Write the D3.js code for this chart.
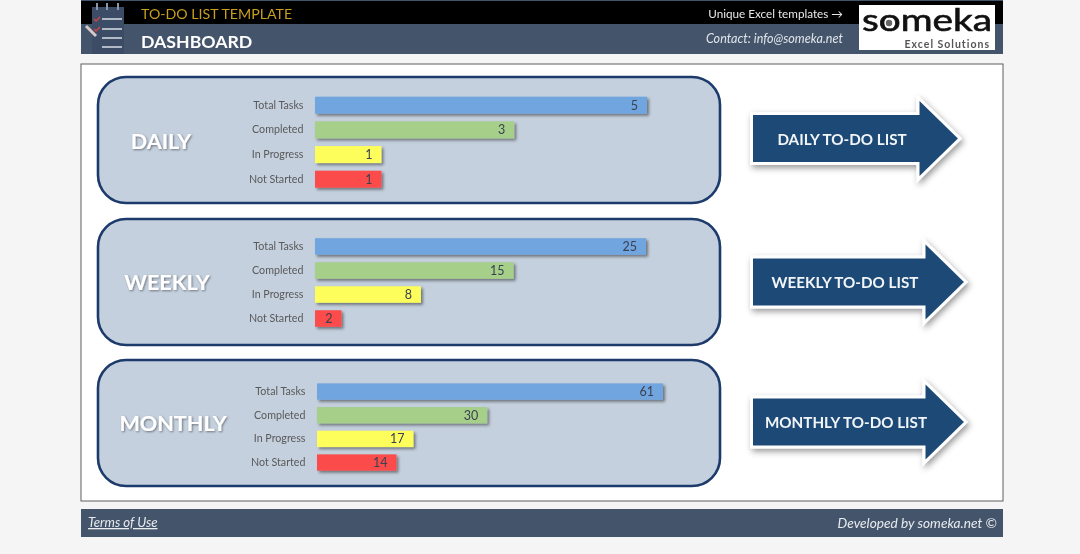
<!DOCTYPE html>
<html>
<head>
<meta charset="utf-8">
<script src="https://cdnjs.cloudflare.com/ajax/libs/d3/7.8.5/d3.min.js"></script>
<style>
  html, body { margin: 0; padding: 0; background: #f5f5f5; overflow: hidden; }
  svg { display: block; filter: blur(0.55px); }
  text { font-family: Lato, "Open Sans", sans-serif; }
  .domain { display: none; }
</style>
</head>
<body>
<div id="main"></div>
<script>
var metrics = ["Total Tasks", "Completed", "In Progress", "Not Started"];
var periods = ["DAILY", "WEEKLY", "MONTHLY"];
var dailyValues = [5, 3, 1, 1];
var weeklyValues = [25, 15, 8, 2];
var monthlyValues = [61, 30, 17, 14];
var barColors = ["#6fa5df", "#a6cf8a", "#fdfd5c", "#fb4c4c"];

var width = 1080, height = 554;

var svg = d3.select("#main").append("svg")
  .attr("width", width)
  .attr("height", height);

// shadows
var defs = svg.append("defs");
function shadow(id, dx, dy, blur, op) {
  defs.append("filter").attr("id", id)
    .attr("x", "-20%").attr("y", "-40%").attr("width", "140%").attr("height", "180%")
    .append("feDropShadow")
    .attr("dx", dx).attr("dy", dy).attr("stdDeviation", blur)
    .attr("flood-color", "#000").attr("flood-opacity", op);
}
shadow("barShadow", 2, 2, 1.4, 0.45);
shadow("arrowShadow", 2, 3, 3, 0.4);
shadow("titleShadow", 1, 1, 1.1, 0.45);

/* Header and footer */
svg.append("rect").attr("x", 81).attr("y", 0).attr("width", 922).attr("height", 54).attr("fill", "#44546a");
svg.append("rect").attr("x", 81).attr("y", 1).attr("width", 922).attr("height", 23).attr("fill", "#000");
svg.append("rect").attr("x", 81).attr("y", 64).attr("width", 922).attr("height", 437)
  .attr("fill", "#fff").attr("stroke", "#5f5f5f").attr("stroke-width", 1);
svg.append("rect").attr("x", 81).attr("y", 509).attr("width", 922).attr("height", 28).attr("fill", "#44546a");

// clipboard icon
svg.append("rect").attr("x", 92).attr("y", 7).attr("width", 32).attr("height", 47).attr("fill", "#3d4c66");
[97, 107, 118].forEach(function(x) {
  svg.append("line").attr("x1", x).attr("x2", x).attr("y1", 3).attr("y2", 10)
    .attr("stroke", "#8b97a8").attr("stroke-width", 2);
});
[19, 29, 38, 47].forEach(function(y) {
  svg.append("line").attr("x1", 102).attr("x2", 122).attr("y1", y).attr("y2", y)
    .attr("stroke", "#e4e8ee").attr("stroke-width", 1.4);
});
[[96, 19], [96, 29]].forEach(function(p) {
  svg.append("path").attr("d", "M" + (p[0] - 2) + " " + p[1] + "l2 2l4 -4")
    .attr("fill", "none").attr("stroke", "#c8454a").attr("stroke-width", 1.5);
});
svg.append("line").attr("x1", 86).attr("y1", 26).attr("x2", 96).attr("y2", 36)
  .attr("stroke", "#d9c8c8").attr("stroke-width", 3);

function label(txt, x, y, size, color, opts) {
  opts = opts || {};
  return svg.append("text").text(txt)
    .attr("x", x).attr("y", y)
    .attr("font-size", size)
    .attr("fill", color)
    .attr("text-anchor", opts.anchor || "start")
    .attr("font-weight", opts.weight || "normal")
    .attr("font-style", opts.style || "normal")
    .attr("text-decoration", opts.deco || "none");
}

label("TO-DO LIST TEMPLATE", 141, 19, 14.2, "#c99f1f");
label("DASHBOARD", 141, 47.5, 17.7, "#fff", {weight: "bold"});
label("Unique Excel templates \u2192", 843, 18, 11.7, "#e8e8e8", {anchor: "end"});
label("Contact: info@someka.net", 843, 43, 12.6, "#dfe4ea", {anchor: "end", style: "italic"});
label("Terms of Use", 88, 527, 13.2, "#e8ebef", {style: "italic", deco: "underline"});
label("Developed by someka.net \u00a9", 997, 528, 13.7, "#e8ebef", {anchor: "end", style: "italic"});

// logo
svg.append("rect").attr("x", 859).attr("y", 5).attr("width", 136).attr("height", 45).attr("fill", "#fff");
label("someka", 927, 31, 30, "#111", {anchor: "middle"})
  .attr("textLength", 130).attr("lengthAdjust", "spacingAndGlyphs")
  .attr("stroke", "#111").attr("stroke-width", 0.6);
svg.append("circle").attr("cx", 889).attr("cy", 23).attr("r", 3.2).attr("fill", "#666");
label("Excel Solutions", 990, 47.5, 10.5, "#555", {anchor: "end", weight: "bold"}).attr("letter-spacing", 1);

/* One panel per period */
var panelTop = [77, 219, 360];
var panelHeight = 126;
var rowRange = [[96.7, 187.7], [238.2, 326.8], [383.4, 470.7]];
var barLeft = [315, 315, 317];
var barRight = [647, 646, 663];
var axisX = [303.5, 303.5, 305.5];
var allValues = [dailyValues, weeklyValues, monthlyValues];
var titleCentre = [161, 167, 173];
var titleMid = [141, 282, 423];

periods.forEach(function(period, ix) {
  var values = allValues[ix];
  var g = svg.append("g").attr("class", "panel");

  g.append("rect")
    .attr("x", 98).attr("y", panelTop[ix])
    .attr("width", 622).attr("height", panelHeight)
    .attr("rx", 28).attr("ry", 28)
    .attr("fill", "#c5d0de")
    .attr("stroke", "#1c3a6b")
    .attr("stroke-width", 2.6);

  g.append("text").text(period)
    .attr("x", titleCentre[ix])
    .attr("y", titleMid[ix] + 7.5)
    .attr("text-anchor", "middle")
    .attr("font-size", 21.6)
    .attr("font-weight", "bold")
    .attr("fill", "#fff")
    .attr("filter", "url(#titleShadow)");

  var x = d3.scaleLinear().domain([0, d3.max(values)]).range([barLeft[ix], barRight[ix]]);
  var y = d3.scaleBand().domain(metrics).range(rowRange[ix]).paddingInner(0.31).paddingOuter(0);

  var axis = g.append("g")
    .attr("transform", "translate(" + axisX[ix] + ",0)")
    .call(d3.axisLeft(y).tickSize(0).tickPadding(0));
  axis.selectAll("text")
    .attr("font-size", 10.7)
    .attr("font-family", "Lato, sans-serif")
    .attr("fill", "#595959");

  g.selectAll("rect.bar")
    .data(values)
  .enter().append("rect")
    .attr("class", "bar")
    .attr("x", x(0))
    .attr("y", function(d, i) { return y(metrics[i]); })
    .attr("width", function(d) { return x(d) - x(0); })
    .attr("height", y.bandwidth())
    .attr("fill", function(d, i) { return barColors[i]; })
    .attr("filter", "url(#barShadow)");

  g.selectAll("text.value")
    .data(values)
  .enter().append("text")
    .attr("class", "value")
    .text(function(d) { return d; })
    .attr("x", function(d) { return x(d) - 9; })
    .attr("y", function(d, i) { return y(metrics[i]) + y.bandwidth() / 2 + 4.5; })
    .attr("text-anchor", "end")
    .attr("font-size", 12.5)
    .attr("fill", "#3a4150");
});

/* Arrow buttons */
var arrowTips = [960, 966, 966];
var arrowMid = [138.5, 282, 422];
var arrowCentre = [842, 845, 846];

periods.forEach(function(period, ix) {
  var tip = arrowTips[ix], mid = arrowMid[ix], neck = tip - 42;
  var pts = [[751.5, mid - 25], [neck, mid - 25], [neck, mid - 41], [tip, mid],
             [neck, mid + 41], [neck, mid + 25], [751.5, mid + 25]];
  svg.append("path")
    .attr("d", d3.line()(pts) + "Z")
    .attr("fill", "#1f4976")
    .attr("stroke", "#fff")
    .attr("stroke-width", 3)
    .attr("stroke-linejoin", "miter")
    .attr("filter", "url(#arrowShadow)");
  svg.append("text").text(period + " TO-DO LIST")
    .attr("x", arrowCentre[ix]).attr("y", mid + 6)
    .attr("text-anchor", "middle")
    .attr("font-size", 15.2)
    .attr("font-weight", "bold")
    .attr("fill", "#f2f5f8");
});
</script>
</body>
</html>
